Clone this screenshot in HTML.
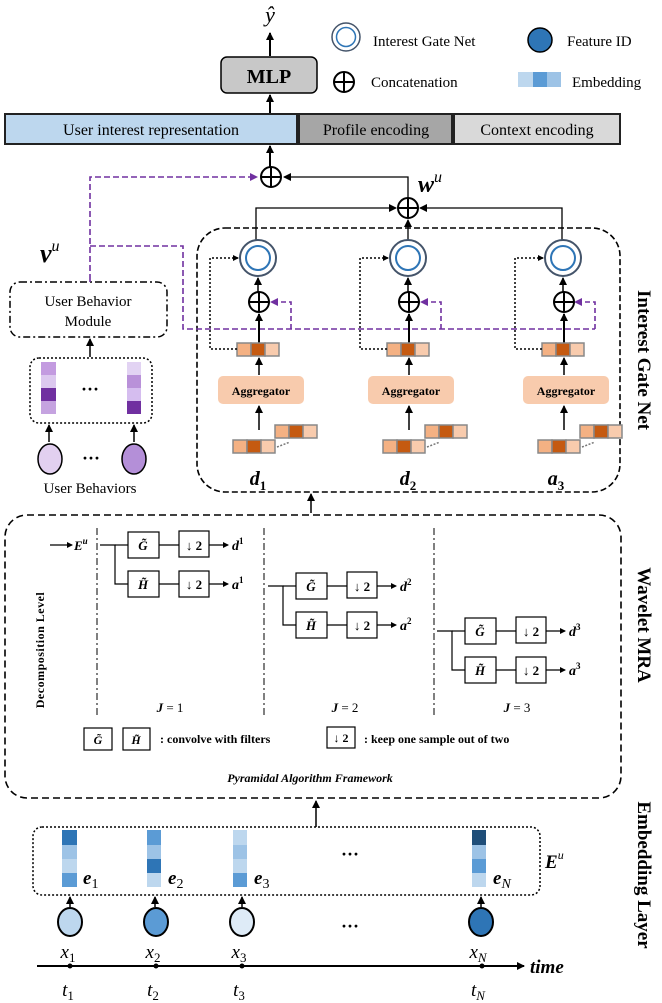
<!DOCTYPE html>
<html><head><meta charset="utf-8"><style>
html,body{margin:0;padding:0;background:#fff}
svg{display:block}
text{font-family:"Liberation Serif",serif}
</style></head><body>
<svg width="662" height="1003" viewBox="0 0 662 1003" xmlns="http://www.w3.org/2000/svg">
<defs>
<marker id="ab" markerWidth="8" markerHeight="8" refX="7" refY="4" orient="auto" markerUnits="userSpaceOnUse"><path d="M0,0 L8,4 L0,8 z" fill="#000"/></marker>
<marker id="ap" markerWidth="8" markerHeight="8" refX="7" refY="4" orient="auto" markerUnits="userSpaceOnUse"><path d="M0,0 L8,4 L0,8 z" fill="#7030a0"/></marker>
<marker id="as" markerWidth="6" markerHeight="6" refX="5" refY="3" orient="auto" markerUnits="userSpaceOnUse"><path d="M0,0 L6,3 L0,6 z" fill="#000"/></marker>
<g id="plus"><circle r="10" fill="#fff" stroke="#000" stroke-width="2"/><line x1="-10" y1="0" x2="10" y2="0" stroke="#000" stroke-width="2"/><line x1="0" y1="-10" x2="0" y2="10" stroke="#000" stroke-width="2"/></g>
<g id="gate"><circle r="18" fill="#fff" stroke="#44546a" stroke-width="2"/><circle r="12" fill="none" stroke="#2e75b6" stroke-width="2"/></g>
<g id="cells"><rect x="0" y="0" width="14" height="13" fill="#f4b183" stroke="#888" stroke-width="1.5"/><rect x="14" y="0" width="14" height="13" fill="#c55a11" stroke="#888" stroke-width="1.5"/><rect x="28" y="0" width="14" height="13" fill="#f8cbad" stroke="#888" stroke-width="1.5"/></g>
</defs>

<!-- top -->
<text x="270" y="22" font-size="22" font-style="italic" text-anchor="middle">ŷ</text>
<line x1="270" y1="56" x2="270" y2="33" stroke="#000" stroke-width="2" marker-end="url(#ab)"/>
<rect x="221" y="57" width="96" height="36" rx="6" fill="#c8c8c8" stroke="#000" stroke-width="1.5"/>
<text x="269" y="83" font-size="20" font-weight="bold" text-anchor="middle">MLP</text>
<circle cx="346" cy="37" r="14" fill="#fff" stroke="#44546a" stroke-width="1.5"/><circle cx="346" cy="37" r="9.5" fill="none" stroke="#2e75b6" stroke-width="1.5"/>
<text x="373" y="46" font-size="15">Interest Gate Net</text>
<circle cx="540" cy="40" r="12" fill="#2e75b6" stroke="#000" stroke-width="1.5"/>
<text x="567" y="46" font-size="15">Feature ID</text>
<use href="#plus" x="344" y="82"/>
<text x="371" y="87" font-size="15">Concatenation</text>
<rect x="518" y="72" width="15" height="15" fill="#bdd7ee"/><rect x="533" y="72" width="14" height="15" fill="#5b9bd5"/><rect x="547" y="72" width="14" height="15" fill="#9dc3e6"/>
<text x="572" y="87" font-size="15">Embedding</text>
<line x1="270" y1="113" x2="270" y2="95" stroke="#000" stroke-width="2" marker-end="url(#ab)"/>
<rect x="5" y="114" width="292" height="30" fill="#bdd7ee" stroke="#222" stroke-width="2"/>
<rect x="299" y="114" width="153" height="30" fill="#a6a6a6" stroke="#222" stroke-width="2"/>
<rect x="454" y="114" width="166" height="30" fill="#d9d9d9" stroke="#222" stroke-width="2"/>
<text x="151" y="135" font-size="16" text-anchor="middle">User interest representation</text>
<text x="376" y="135" font-size="16" text-anchor="middle">Profile encoding</text>
<text x="537" y="135" font-size="16" text-anchor="middle">Context encoding</text>
<line x1="270" y1="167" x2="270" y2="146" stroke="#000" stroke-width="2" marker-end="url(#ab)"/>
<use href="#plus" x="271" y="177"/>
<polyline points="90,280 90,177 257,177" fill="none" stroke="#7030a0" stroke-width="1.6" stroke-dasharray="6,3" marker-end="url(#ap)"/>
<polyline points="408,198 408,177 284,177" fill="none" stroke="#000" stroke-width="1.3" marker-end="url(#ab)"/>
<text x="418" y="192" font-size="24" font-weight="bold" font-style="italic">w<tspan font-size="16" dy="-10" font-weight="normal">u</tspan></text>
<use href="#plus" x="408" y="208"/>
<polyline points="256,240 256,208 396,208" fill="none" stroke="#000" stroke-width="1.3" marker-end="url(#ab)"/>
<polyline points="562,240 562,208 420,208" fill="none" stroke="#000" stroke-width="1.3" marker-end="url(#ab)"/>
<line x1="408" y1="240" x2="408" y2="220" stroke="#000" stroke-width="1.3" marker-end="url(#ab)"/>

<!-- gate net box -->
<rect x="197" y="228" width="423" height="264" rx="28" fill="none" stroke="#000" stroke-width="1.6" stroke-dasharray="6,3"/>
<text transform="translate(638,360) rotate(90)" font-size="19" font-weight="bold" text-anchor="middle">Interest Gate Net</text>

<!-- purple branch -->
<polyline points="90,246 183,246 183,329 595,329" fill="none" stroke="#7030a0" stroke-width="1.6" stroke-dasharray="6,3"/>
<polyline points="291,329 291,302 271,302" fill="none" stroke="#7030a0" stroke-width="1.6" stroke-dasharray="5,3" marker-end="url(#ap)"/>
<polyline points="441,329 441,302 421,302" fill="none" stroke="#7030a0" stroke-width="1.6" stroke-dasharray="5,3" marker-end="url(#ap)"/>
<polyline points="595,329 595,302 575,302" fill="none" stroke="#7030a0" stroke-width="1.6" stroke-dasharray="5,3" marker-end="url(#ap)"/>

<!-- columns -->
<g id="col">
<use href="#gate" x="258" y="258"/>
<line x1="258" y1="292" x2="258" y2="278" stroke="#000" stroke-width="1.5" marker-end="url(#ab)"/>
<use href="#plus" x="259" y="302"/>
<line x1="259" y1="343" x2="259" y2="314" stroke="#000" stroke-width="2" marker-end="url(#ab)"/>
<use href="#cells" x="237" y="343"/>
<polyline points="237,349 210,349 210,258 238,258" fill="none" stroke="#000" stroke-width="1.5" stroke-dasharray="2,2" marker-end="url(#as)"/>
<line x1="259" y1="375" x2="259" y2="358" stroke="#000" stroke-width="1.5" marker-end="url(#ab)"/>
<rect x="218" y="376" width="86" height="28" rx="5" fill="#f8cbad"/>
<text x="261" y="395" font-size="12" font-weight="bold" text-anchor="middle">Aggregator</text>
<line x1="259" y1="430" x2="259" y2="406" stroke="#000" stroke-width="1.5" marker-end="url(#ab)"/>
<use href="#cells" x="275" y="425"/>
<use href="#cells" x="233" y="440"/>
<line x1="277" y1="447" x2="290" y2="442" stroke="#777" stroke-width="1.5" stroke-dasharray="2,1.5"/>
</g>
<use href="#col" x="150" y="0"/>
<use href="#col" x="305" y="0"/>
<text x="258" y="485" font-size="20" font-weight="bold" font-style="italic" text-anchor="middle">d<tspan font-size="13" dy="5" font-style="normal">1</tspan></text>
<text x="408" y="485" font-size="20" font-weight="bold" font-style="italic" text-anchor="middle">d<tspan font-size="13" dy="5" font-style="normal">2</tspan></text>
<text x="556" y="485" font-size="20" font-weight="bold" font-style="italic" text-anchor="middle">a<tspan font-size="13" dy="5" font-style="normal">3</tspan></text>
<line x1="311" y1="513" x2="311" y2="494" stroke="#000" stroke-width="1.5" marker-end="url(#ab)"/>

<!-- left user behavior -->
<text x="40" y="262" font-size="26" font-weight="bold" font-style="italic">v<tspan font-size="16" dy="-11" font-weight="normal">u</tspan></text>
<rect x="10" y="282" width="157" height="55" rx="10" fill="#fff" stroke="#000" stroke-width="1.5" stroke-dasharray="7,3,2,3"/>
<line x1="90" y1="280" x2="90" y2="282" stroke="#7030a0" stroke-width="1.6"/>
<text x="88" y="306" font-size="15" text-anchor="middle">User Behavior</text>
<text x="88" y="326" font-size="15" text-anchor="middle">Module</text>
<line x1="90" y1="357" x2="90" y2="339" stroke="#000" stroke-width="1.5" marker-end="url(#ab)"/>
<rect x="30" y="358" width="122" height="65" rx="9" fill="none" stroke="#000" stroke-width="1.5" stroke-dasharray="2,2"/>
<rect x="41" y="362" width="15" height="13" fill="#c39be0"/><rect x="41" y="375" width="15" height="13" fill="#dcc8ef"/><rect x="41" y="388" width="15" height="13" fill="#7030a0"/><rect x="41" y="401" width="15" height="13" fill="#c5a3e0"/>
<rect x="127" y="362" width="14" height="13" fill="#e2d3f3"/><rect x="127" y="375" width="14" height="13" fill="#b991d9"/><rect x="127" y="388" width="14" height="13" fill="#d5bdef"/><rect x="127" y="401" width="14" height="13" fill="#7030a0"/>
<text x="90" y="395" font-size="18" font-weight="bold" text-anchor="middle">···</text>
<line x1="49" y1="442" x2="49" y2="425" stroke="#000" stroke-width="1.5" marker-end="url(#ab)"/>
<line x1="134" y1="442" x2="134" y2="425" stroke="#000" stroke-width="1.5" marker-end="url(#ab)"/>
<ellipse cx="50" cy="459" rx="12" ry="15" fill="#e2d0f0" stroke="#000" stroke-width="1.5"/>
<ellipse cx="134" cy="459" rx="12" ry="15" fill="#b48fd8" stroke="#000" stroke-width="1.5"/>
<text x="91" y="464" font-size="18" font-weight="bold" text-anchor="middle">···</text>
<text x="90" y="493" font-size="15" text-anchor="middle">User Behaviors</text>

<!-- wavelet -->
<rect x="5" y="515" width="616" height="283" rx="22" fill="none" stroke="#000" stroke-width="1.6" stroke-dasharray="7,4"/>
<text transform="translate(638,625) rotate(90)" font-size="19" font-weight="bold" text-anchor="middle">Wavelet MRA</text>
<text transform="translate(44,650) rotate(-90)" font-size="12" font-weight="bold" text-anchor="middle" letter-spacing="0.5">Decomposition Level</text>
<g stroke="#000" stroke-width="1" stroke-dasharray="7,3,2,3"><line x1="97" y1="528" x2="97" y2="715"/><line x1="264" y1="528" x2="264" y2="715"/><line x1="434" y1="528" x2="434" y2="715"/></g>
<line x1="50" y1="545" x2="72" y2="545" stroke="#000" stroke-width="1.2" marker-end="url(#as)"/>
<text x="74" y="550" font-size="13" font-weight="bold" font-style="italic">E<tspan font-size="9" dy="-6">u</tspan></text>
<g id="lvl" fill="none" stroke="#000" stroke-width="1.2">
<polyline points="100,545 115,545 115,584 128,584"/>
<line x1="115" y1="545" x2="128" y2="545"/>
<rect x="128" y="532" width="31" height="26" fill="#fff"/>
<rect x="179" y="531" width="30" height="26" fill="#fff"/>
<rect x="128" y="571" width="31" height="26" fill="#fff"/>
<rect x="179" y="571" width="30" height="26" fill="#fff"/>
<line x1="159" y1="545" x2="179" y2="545"/><line x1="159" y1="584" x2="179" y2="584"/>
<line x1="209" y1="545" x2="228" y2="545" marker-end="url(#as)"/><line x1="209" y1="584" x2="228" y2="584" marker-end="url(#as)"/>
<g stroke="none" fill="#000" font-weight="bold" font-size="13"><text x="143" y="550" text-anchor="middle" font-style="italic">G̃</text><text x="143" y="589" text-anchor="middle" font-style="italic">H̃</text><text x="194" y="550" text-anchor="middle">↓ 2</text><text x="194" y="589" text-anchor="middle">↓ 2</text></g>
</g>
<use href="#lvl" x="168" y="41"/>
<use href="#lvl" x="337" y="86"/>
<g font-size="14" font-weight="bold" font-style="italic">
<text x="232" y="550">d<tspan font-size="9" dy="-6" font-style="normal">1</tspan></text>
<text x="232" y="589">a<tspan font-size="9" dy="-6" font-style="normal">1</tspan></text>
<text x="400" y="591">d<tspan font-size="9" dy="-6" font-style="normal">2</tspan></text>
<text x="400" y="630">a<tspan font-size="9" dy="-6" font-style="normal">2</tspan></text>
<text x="569" y="636">d<tspan font-size="9" dy="-6" font-style="normal">3</tspan></text>
<text x="569" y="675">a<tspan font-size="9" dy="-6" font-style="normal">3</tspan></text>
</g>
<g font-size="13" text-anchor="middle"><text x="170" y="712"><tspan font-style="italic" font-weight="bold">J</tspan> = 1</text><text x="345" y="712"><tspan font-style="italic" font-weight="bold">J</tspan> = 2</text><text x="517" y="712"><tspan font-style="italic" font-weight="bold">J</tspan> = 3</text></g>
<g fill="none" stroke="#000" stroke-width="1.2"><rect x="84" y="728" width="28" height="22"/><rect x="123" y="728" width="27" height="22"/><rect x="327" y="727" width="28" height="21"/></g>
<g font-size="12" font-weight="bold"><text x="98" y="744" text-anchor="middle" font-style="italic">G̃</text><text x="136" y="744" text-anchor="middle" font-style="italic">H̃</text><text x="160" y="743">: convolve with filters</text><text x="341" y="742" text-anchor="middle">↓ 2</text><text x="364" y="743">: keep one sample out of two</text></g>
<text x="310" y="782" font-size="12" font-weight="bold" font-style="italic" text-anchor="middle">Pyramidal Algorithm  Framework</text>

<!-- embedding layer -->
<text transform="translate(638,875) rotate(90)" font-size="19" font-weight="bold" text-anchor="middle">Embedding Layer</text>
<line x1="316" y1="827" x2="316" y2="801" stroke="#000" stroke-width="1.5" marker-end="url(#ab)"/>
<rect x="33" y="827" width="507" height="68" rx="9" fill="none" stroke="#000" stroke-width="1.5" stroke-dasharray="2,2"/>
<g>
<rect x="62" y="830" width="15" height="15" fill="#2e75b6"/><rect x="62" y="845" width="15" height="14" fill="#9dc3e6"/><rect x="62" y="859" width="15" height="14" fill="#bdd7ee"/><rect x="62" y="873" width="15" height="14" fill="#5b9bd5"/>
<rect x="147" y="830" width="14" height="15" fill="#5b9bd5"/><rect x="147" y="845" width="14" height="14" fill="#9dc3e6"/><rect x="147" y="859" width="14" height="14" fill="#2e75b6"/><rect x="147" y="873" width="14" height="14" fill="#bdd7ee"/>
<rect x="233" y="830" width="14" height="15" fill="#bdd7ee"/><rect x="233" y="845" width="14" height="14" fill="#9dc3e6"/><rect x="233" y="859" width="14" height="14" fill="#bdd7ee"/><rect x="233" y="873" width="14" height="14" fill="#5b9bd5"/>
<rect x="472" y="830" width="14" height="15" fill="#1f4e79"/><rect x="472" y="845" width="14" height="14" fill="#9dc3e6"/><rect x="472" y="859" width="14" height="14" fill="#5b9bd5"/><rect x="472" y="873" width="14" height="14" fill="#bdd7ee"/>
</g>
<g font-size="19" font-weight="bold" font-style="italic">
<text x="83" y="884">e<tspan font-size="14" dy="4" font-style="normal" font-weight="normal">1</tspan></text>
<text x="168" y="884">e<tspan font-size="14" dy="4" font-style="normal" font-weight="normal">2</tspan></text>
<text x="254" y="884">e<tspan font-size="14" dy="4" font-style="normal" font-weight="normal">3</tspan></text>
<text x="493" y="884">e<tspan font-size="14" dy="4" font-style="italic" font-weight="normal">N</tspan></text>
<text x="545" y="868">E<tspan font-size="12" dy="-9" font-weight="normal">u</tspan></text>
</g>
<text x="350" y="860" font-size="18" font-weight="bold" text-anchor="middle">···</text>
<g stroke="#000" stroke-width="1.5"><line x1="70" y1="907" x2="70" y2="897" marker-end="url(#ab)"/><line x1="155" y1="907" x2="155" y2="897" marker-end="url(#ab)"/><line x1="242" y1="907" x2="242" y2="897" marker-end="url(#ab)"/><line x1="481" y1="907" x2="481" y2="897" marker-end="url(#ab)"/></g>
<g stroke="#000" stroke-width="2"><ellipse cx="70" cy="922" rx="12" ry="14" fill="#bdd7ee"/><ellipse cx="156" cy="922" rx="12" ry="14" fill="#5b9bd5"/><ellipse cx="242" cy="922" rx="12" ry="14" fill="#deebf7"/><ellipse cx="481" cy="922" rx="12" ry="14" fill="#2e75b6"/></g>
<text x="350" y="932" font-size="18" font-weight="bold" text-anchor="middle">···</text>
<g font-size="19" font-style="italic" text-anchor="middle"><text x="68" y="958">x<tspan font-size="13" dy="4" font-style="normal">1</tspan></text><text x="153" y="958">x<tspan font-size="13" dy="4" font-style="normal">2</tspan></text><text x="239" y="958">x<tspan font-size="13" dy="4" font-style="normal">3</tspan></text><text x="478" y="958">x<tspan font-size="13" dy="4">N</tspan></text></g>
<line x1="37" y1="966" x2="524" y2="966" stroke="#000" stroke-width="2" marker-end="url(#ab)"/>
<g fill="#000"><circle cx="70" cy="966" r="2.5"/><circle cx="156" cy="966" r="2.5"/><circle cx="242" cy="966" r="2.5"/><circle cx="482" cy="966" r="2.5"/></g>
<text x="530" y="973" font-size="19" font-weight="bold" font-style="italic">time</text>
<g font-size="19" font-style="italic" text-anchor="middle"><text x="68" y="996">t<tspan font-size="13" dy="4" font-style="normal">1</tspan></text><text x="153" y="996">t<tspan font-size="13" dy="4" font-style="normal">2</tspan></text><text x="239" y="996">t<tspan font-size="13" dy="4" font-style="normal">3</tspan></text><text x="478" y="996">t<tspan font-size="13" dy="4">N</tspan></text></g>
</svg>
</body></html>
